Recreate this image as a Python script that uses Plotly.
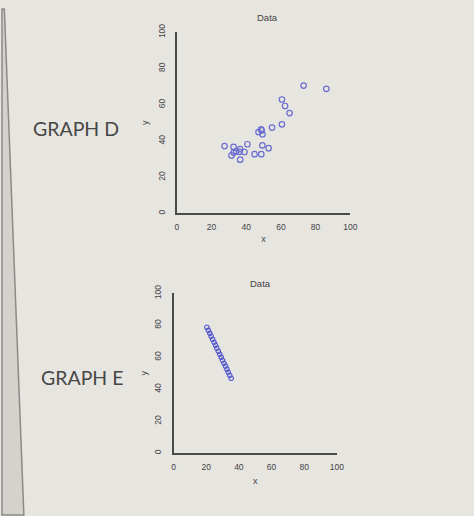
import plotly.graph_objects as go

# graph D - scattered points, loosely increasing
d_x = [27.5, 32.7, 31.5, 32.8, 34.2, 36.0, 36.5, 36.5, 39.0, 40.7, 44.8, 48.7, 49.3,
       52.9, 47.1, 48.6, 49.4, 48.9, 54.9, 60.6, 60.6, 62.4, 65.0, 73.1, 86.2]
d_y = [37.2, 36.7, 32.0, 33.6, 34.3, 34.0, 35.5, 29.7, 33.9, 38.2, 32.7, 32.7, 37.6,
       36.0, 44.9, 46.4, 43.7, 45.8, 47.4, 49.2, 62.9, 59.3, 55.4, 70.6, 68.8]

# graph E - tight line of points going down
e_x = [20.4, 21.3, 22.2, 23.0, 23.9, 24.8, 25.7, 26.5, 27.4, 28.3, 29.2, 30.0,
       30.9, 31.8, 32.7, 33.5, 34.4, 35.3]
e_y = [78.8, 76.9, 75.0, 73.2, 71.3, 69.4, 67.6, 65.7, 63.8, 61.9, 60.1, 58.2,
       56.3, 54.5, 52.6, 50.7, 48.8, 46.9]

tick_vals = [0, 20, 40, 60, 80, 100]
tick_text = ['0', '20', '40', '60', '80', '100']

bg = '#e7e5e0'
ink = '#444444'
tick_font = dict(family='Liberation Sans', size=8.5, color=ink)

fig = go.Figure()
fig.add_trace(go.Scatter(x=d_x, y=d_y, mode='markers', xaxis='x', yaxis='y',
                         marker=dict(symbol='circle-open', size=5.5, color='#6a6ed0',
                                     line=dict(width=1.2))))
fig.add_trace(go.Scatter(x=e_x, y=e_y, mode='markers', xaxis='x2', yaxis='y2',
                         marker=dict(symbol='circle-open', size=4.5, color='#5558d0',
                                     line=dict(width=1.2))))


def x_axis(domain, anchor, standoff):
    return dict(domain=domain, anchor=anchor, range=[0, 100], showline=True,
                linecolor='#4a4a4a', linewidth=1.6, showgrid=False, zeroline=False,
                tickvals=tick_vals, ticktext=tick_text, ticks='outside', ticklen=5,
                tickcolor='rgba(0,0,0,0)', tickfont=tick_font,
                title=dict(text='x', font=dict(family='Liberation Sans', size=9, color=ink),
                           standoff=standoff))


def y_axis(domain, anchor, standoff):
    return dict(domain=domain, anchor=anchor, range=[0, 100], showline=True,
                linecolor='#4a4a4a', linewidth=1.6, showgrid=False, zeroline=False,
                tickvals=tick_vals, ticktext=tick_text, ticks='outside', ticklen=7,
                tickcolor='rgba(0,0,0,0)', tickfont=tick_font, tickangle=-90,
                title=dict(text='y', font=dict(family='Liberation Sans', size=9, color=ink),
                           standoff=standoff))


fig.update_layout(
    width=474, height=516,
    margin=dict(l=0, r=0, t=0, b=0),
    paper_bgcolor=bg, plot_bgcolor='rgba(0,0,0,0)',
    showlegend=False,
    xaxis=x_axis([0.376, 0.749], 'y', 4),
    yaxis=y_axis([0.596, 0.954], 'x', 6),
    xaxis2=x_axis([0.369, 0.720], 'y2', 6),
    yaxis2=y_axis([0.122, 0.438], 'x2', 4),
)

# titles and side labels (anchored on their centre)
labels = [('Data', 271, 9, 'Liberation Sans', 9.5, '#444'),
          ('Data', 263, 280, 'Liberation Sans', 9.5, '#444'),
          ('GRAPH D', 75, 122, 'Lato', 19.5, '#474747'),
          ('GRAPH E', 82, 376, 'Lato', 19.5, '#474747')]
for txt, px_x, px_y, fam, size, col in labels:
    fig.add_annotation(text=txt, x=px_x / 474, y=1 - px_y / 516, xref='paper', yref='paper',
                       xanchor='center', yanchor='middle', showarrow=False,
                       font=dict(family=fam, size=size, color=col))

# left edge of the page in the photo
fig.add_shape(type='path', xref='paper', yref='paper',
              path='M 0 1 L 0.005 1 L 0.047 0 L 0 0 Z',
              fillcolor='#d4d2cd', line=dict(color='#8c8a86', width=1.5), layer='below')

# no browser margin round the plot, no toolbar
fig.write_html("out.html", config={'displayModeBar': False},
               post_script="document.body.style.margin='0';")
